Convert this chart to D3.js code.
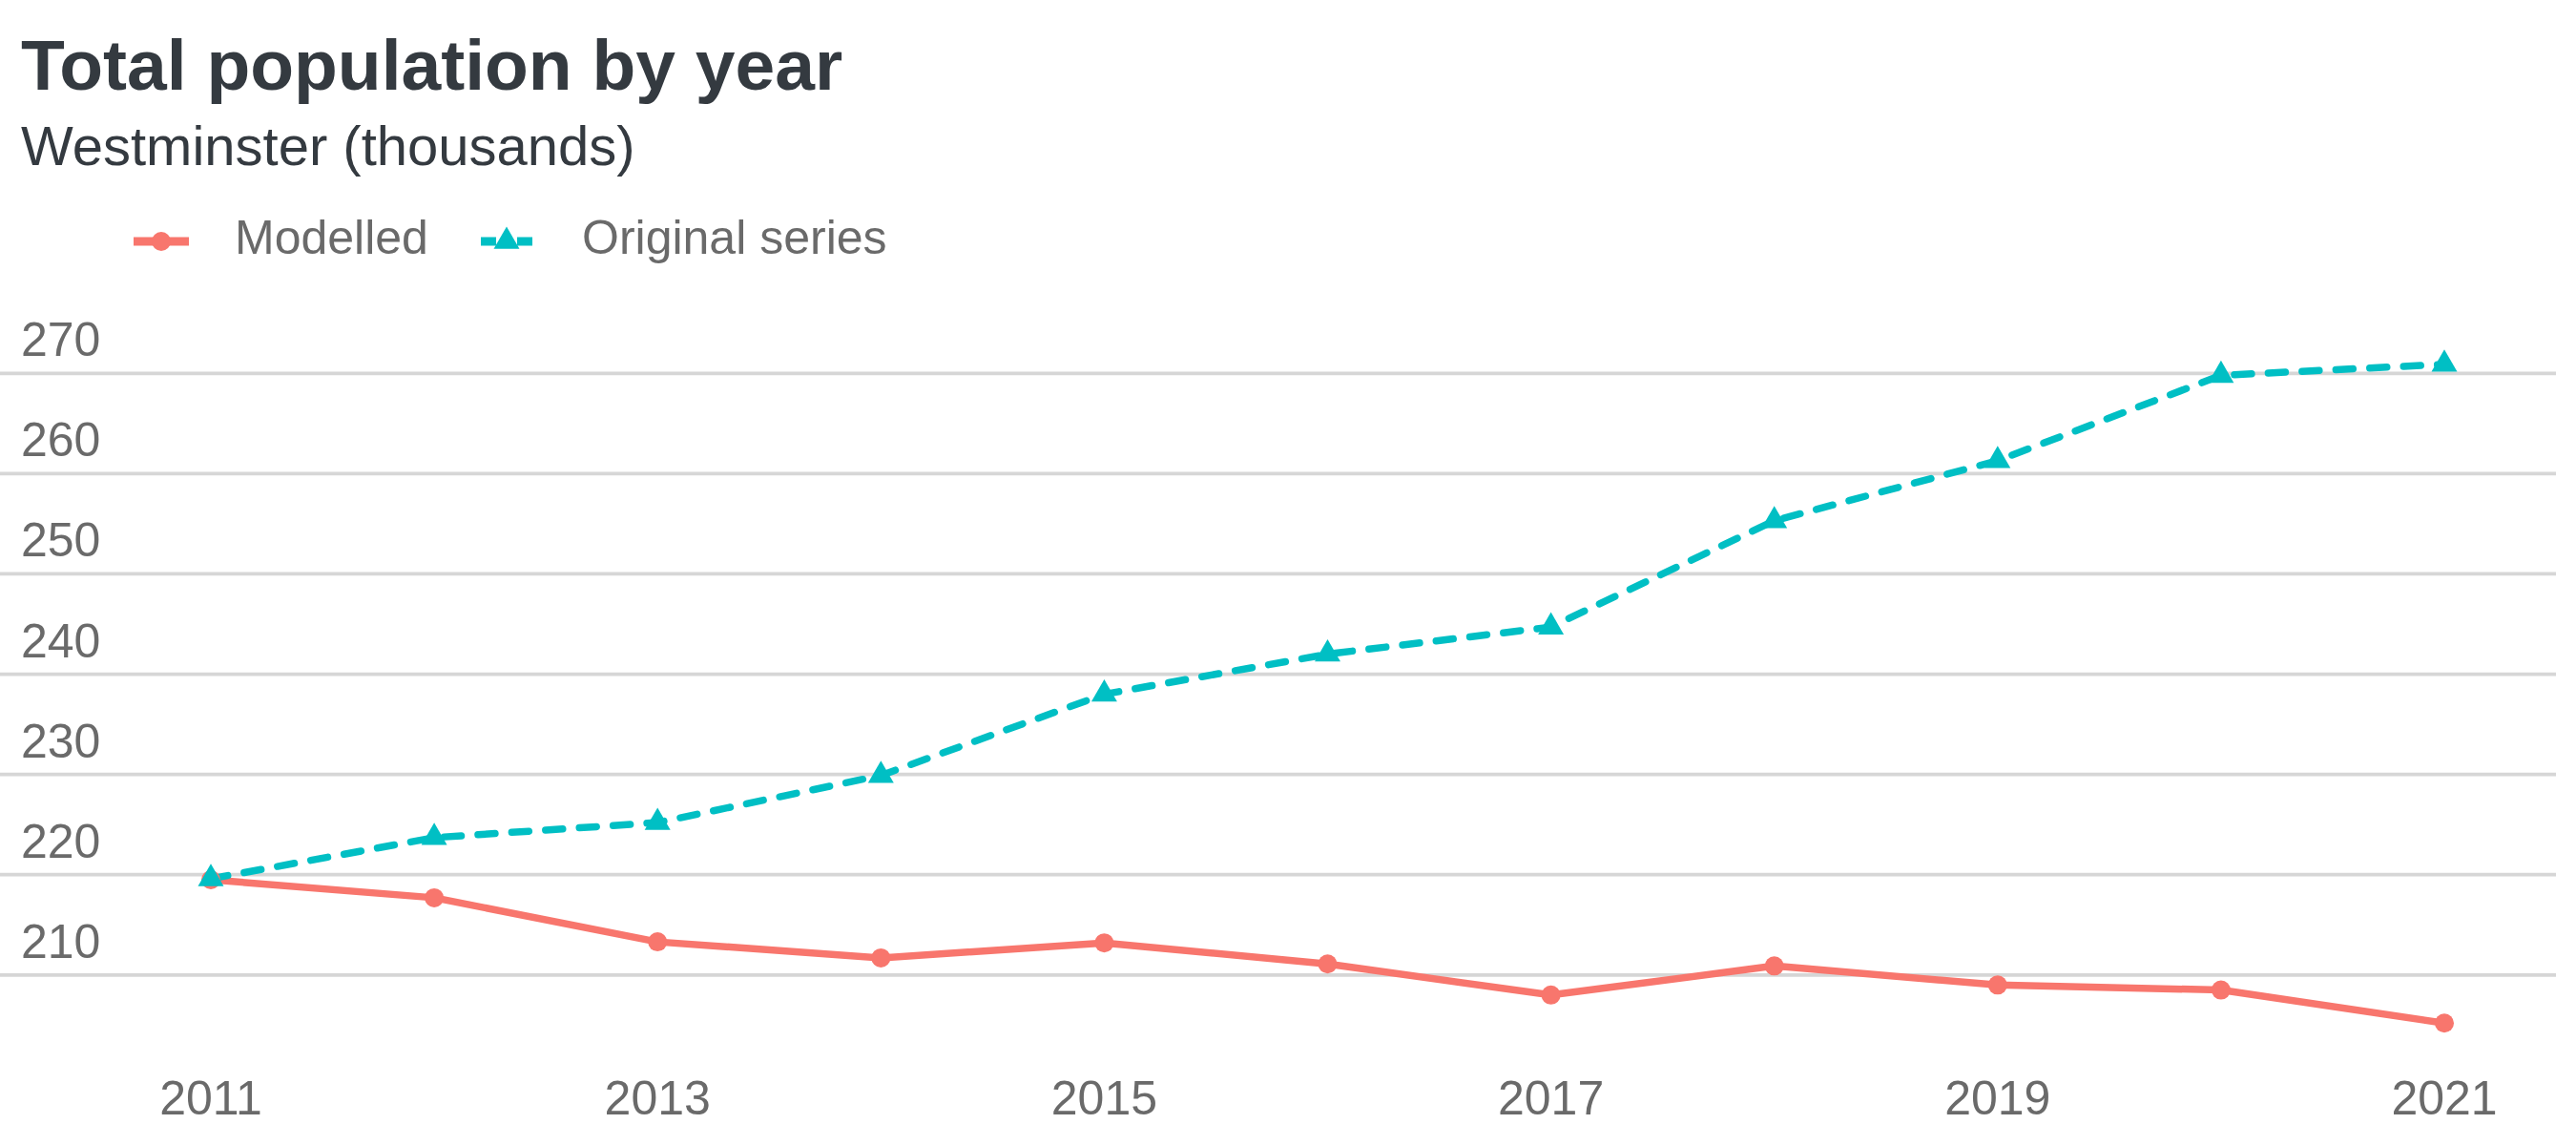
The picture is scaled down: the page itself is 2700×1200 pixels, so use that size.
<!DOCTYPE html>
<html>
<head>
<meta charset="utf-8">
<script src="https://cdn.jsdelivr.net/npm/d3@7"></script>
<style>
    body { margin: 0; background: #fff; }
    svg { display: block; font-family: "Liberation Sans", Arial, sans-serif; }
</style>
</head>
<body>
<div id="chart"></div>
<script>
const years = [2011, 2012, 2013, 2014, 2015, 2016, 2017, 2018, 2019, 2020, 2021];
const modelled = [219.5, 217.7, 213.3, 211.7, 213.2, 211.1, 208.0, 210.9, 209.0, 208.5, 205.2];
const original = [219.6, 223.7, 225.2, 229.9, 238.0, 242.0, 244.7, 255.3, 261.3, 269.8, 270.9];
const yTicks = [210, 220, 230, 240, 250, 260, 270];
const xTicks = [2011, 2013, 2015, 2017, 2019, 2021];
const seriesNames = ["Modelled", "Original series"];

const width = 2700, height = 1200;
const red = "#F8766D", teal = "#00BFC4";
const textGrey = "#6a6a6a";
const axisSize = 50;

const svg = d3.select("#chart").append("svg")
    .attr("width", width)
    .attr("height", height);

svg.append("rect").attr("width", width).attr("height", height).attr("fill", "#fff");

const x = d3.scaleLinear().domain([2011, 2021]).range([221, 2562]);
const y = d3.scaleLinear().domain([210, 270]).range([1021.8, 391.3]);

// title + subtitle
svg.append("text")
    .attr("x", 22).attr("y", 94)
    .attr("font-size", 75).attr("font-weight", "bold")
    .attr("fill", "#343a40")
    .text("Total population by year");

svg.append("text")
    .attr("x", 22).attr("y", 173)
    .attr("font-size", 58)
    .attr("fill", "#343a40")
    .text("Westminster (thousands)");

// gridlines with labels sitting on top of them
const grid = svg.append("g");
grid.selectAll("line")
    .data(yTicks)
    .enter()
    .append("line")
    .attr("x1", 0).attr("x2", 2679)
    .attr("y1", d => y(d)).attr("y2", d => y(d))
    .attr("stroke", "#d6d6d6")
    .attr("stroke-width", 3.8);

grid.selectAll("text")
    .data(yTicks)
    .enter()
    .append("text")
    .attr("x", 22)
    .attr("y", d => y(d) - 18)
    .attr("font-size", axisSize)
    .attr("fill", textGrey)
    .text(d => d);

svg.append("g").selectAll("text")
    .data(xTicks)
    .enter()
    .append("text")
    .attr("x", d => x(d))
    .attr("y", 1168)
    .attr("text-anchor", "middle")
    .attr("font-size", axisSize)
    .attr("fill", textGrey)
    .text(d => d);

const line = d3.line().x(d => x(d.year)).y(d => y(d.value));
const modData = years.map((yr, i) => ({ year: yr, value: modelled[i] }));
const origData = years.map((yr, i) => ({ year: yr, value: original[i] }));

svg.append("path")
    .datum(modData)
    .attr("d", line)
    .attr("fill", "none")
    .attr("stroke", red)
    .attr("stroke-width", 7.5)
    .attr("stroke-linejoin", "round");

svg.append("path")
    .datum(origData)
    .attr("d", line)
    .attr("fill", "none")
    .attr("stroke", teal)
    .attr("stroke-width", 7.5)
    .attr("stroke-linecap", "round")
    .attr("stroke-dasharray", "18,17.5");

// R style filled triangle, centroid on the point
function triangle(cx, cy) {
    return `M${cx},${cy - 15.55}L${cx + 13.47},${cy + 7.78}L${cx - 13.47},${cy + 7.78}Z`;
}

svg.append("g").selectAll("circle")
    .data(modData)
    .enter()
    .append("circle")
    .attr("cx", d => x(d.year))
    .attr("cy", d => y(d.value))
    .attr("r", 10)
    .attr("fill", red);

svg.append("g").selectAll("path")
    .data(origData)
    .enter()
    .append("path")
    .attr("d", d => triangle(x(d.year), y(d.value)))
    .attr("fill", teal);

// legend
const legend = svg.append("g");
legend.append("line")
    .attr("x1", 140).attr("x2", 198).attr("y1", 253).attr("y2", 253)
    .attr("stroke", red).attr("stroke-width", 9);
legend.append("circle").attr("cx", 169).attr("cy", 253).attr("r", 10).attr("fill", red);
legend.append("text")
    .attr("x", 246).attr("y", 266)
    .attr("font-size", axisSize).attr("fill", textGrey)
    .text(seriesNames[0]);

legend.append("line")
    .attr("x1", 504).attr("x2", 558).attr("y1", 253).attr("y2", 253)
    .attr("stroke", teal).attr("stroke-width", 9)
    .attr("stroke-dasharray", "16,22");
legend.append("path").attr("d", triangle(531, 253)).attr("fill", teal);
legend.append("text")
    .attr("x", 610).attr("y", 266)
    .attr("font-size", axisSize).attr("fill", textGrey)
    .text(seriesNames[1]);
</script>
</body>
</html>
